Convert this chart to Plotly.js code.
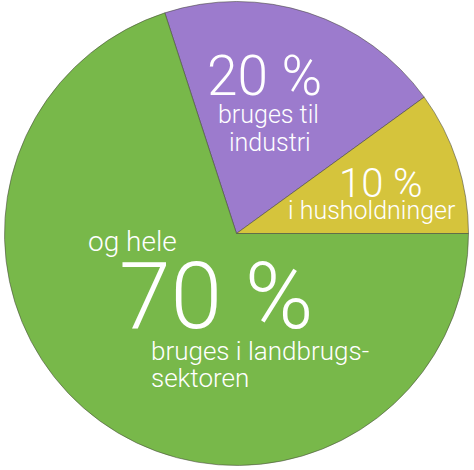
<!DOCTYPE html>
<html>
<head>
<meta charset="utf-8">
<script src="https://cdn.plot.ly/plotly-3.0.1.min.js"></script>
<style>html,body{margin:0;padding:0;background:#fff;}#chart{width:474px;height:470px;}</style>
</head>
<body>
<div id="chart"></div>
<script>
// Data
const labels = ["industri", "husholdninger", "landbrugssektoren"];
const values = [20, 10, 70];
const sliceColors = ["#9C7BCD", "#D5C43C", "#78B84A"];

// Texts shown on the chart
const textLines = ["20 %", "bruges til", "industri", "10 %", "i husholdninger", "og hele", "70 %", "bruges i landbrugs-", "sektoren"];

const W = 474, H = 470;
const cx = 236.5, cy = 233.5, r = 232;

// positions (pixels) for each text line
const pos = [
  {x: 264, y: 76, s: 55, a: "center"},
  {x: 268, y: 114, s: 25, a: "center"},
  {x: 270, y: 143, s: 25, a: "center"},
  {x: 381, y: 183, s: 40, a: "center"},
  {x: 372, y: 211, s: 25, a: "center"},
  {x: 86, y: 242, s: 28, a: "left"},
  {x: 216, y: 296, s: 93, a: "center"},
  {x: 149, y: 351, s: 26, a: "left"},
  {x: 149, y: 378, s: 26, a: "left"}
];

const annotations = textLines.map((t, i) => ({
  text: t,
  xref: "paper", yref: "paper",
  x: pos[i].x / W, y: 1 - pos[i].y / H,
  xanchor: pos[i].a, yanchor: "middle",
  showarrow: false,
  font: {family: "Roboto, 'Liberation Sans', sans-serif", size: pos[i].s, color: "#ffffff", weight: 300}
}));

const data = [{
  type: "pie",
  labels: labels,
  values: values,
  sort: false,
  direction: "clockwise",
  rotation: -18,
  textinfo: "none",
  hoverinfo: "none",
  marker: {colors: sliceColors, line: {color: "rgba(70,70,60,0.55)", width: 1}},
  domain: {x: [(cx - r) / W, (cx + r) / W], y: [(H - cy - r) / H, (H - cy + r) / H]}
}];

const layout = {
  width: W, height: H,
  margin: {l: 0, r: 0, t: 0, b: 0},
  showlegend: false,
  paper_bgcolor: "#ffffff",
  annotations: annotations
};

Plotly.newPlot("chart", data, layout, {staticPlot: true, displayModeBar: false});
</script>
</body>
</html>
